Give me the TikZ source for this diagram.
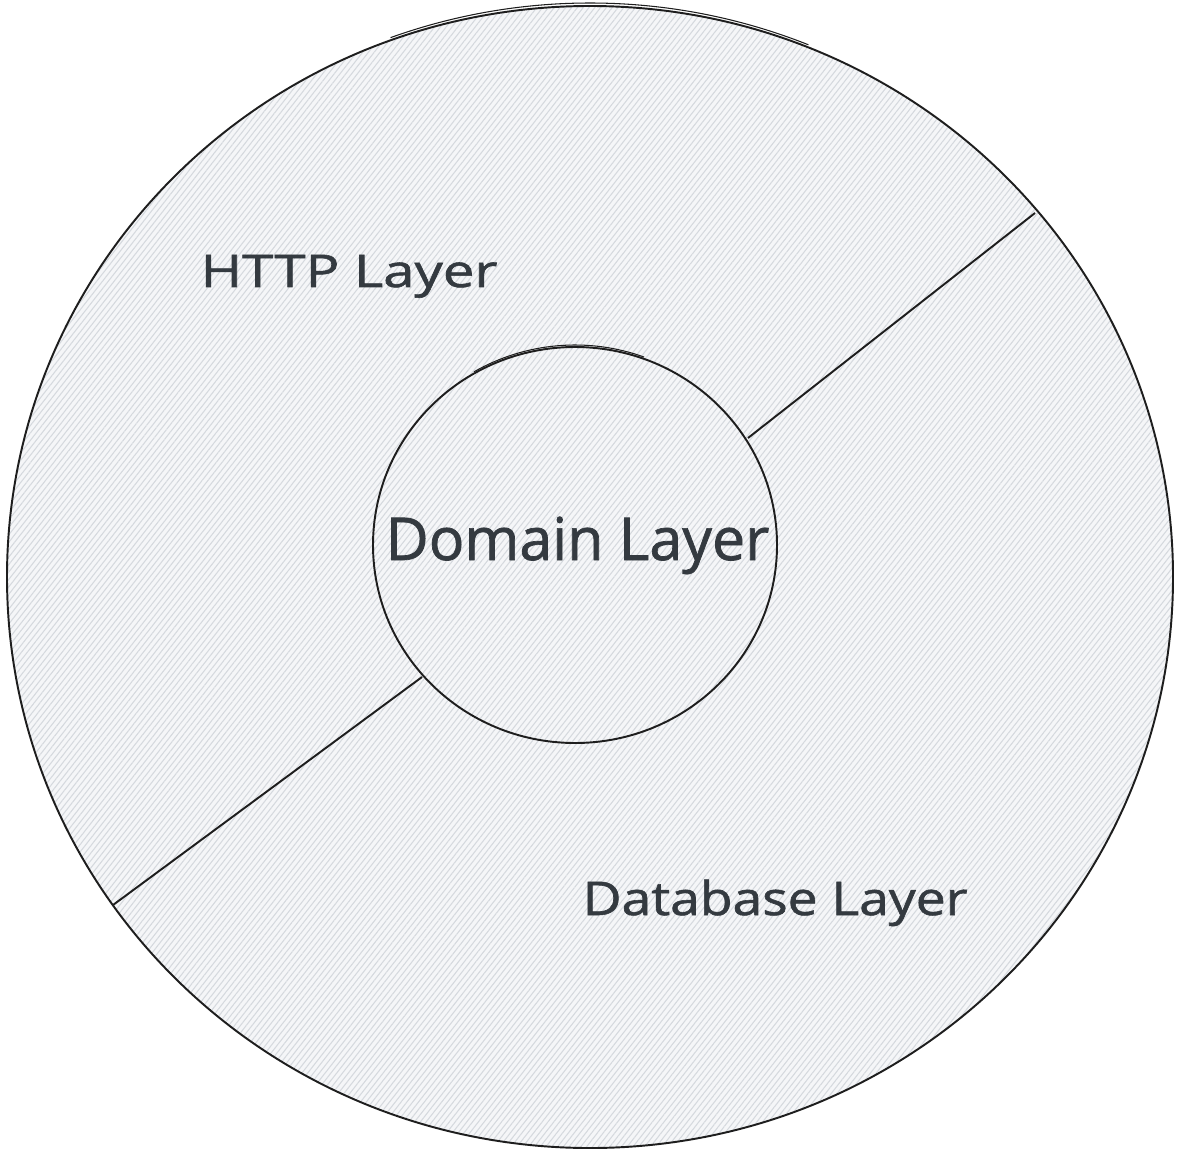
\documentclass[tikz,border=0pt]{standalone}
\usepackage{fontspec}
\setmainfont{Open Sans}
\newfontfamily\handfont{Open Sans}[FakeBold=1.2]
\usetikzlibrary{calc,patterns.meta}
\definecolor{ink}{HTML}{1E1E1E}
\definecolor{label}{HTML}{343A40}
\definecolor{hatch}{HTML}{D5D9DE}
\definecolor{paper}{HTML}{F5F6F8}
\tikzset{
  layer/.style={draw=ink,line width=0.55pt},
  hatched/.style={fill=paper,postaction={pattern={Lines[angle=52,distance=1.3pt,line width=0.3pt]},pattern color=hatch}},
  sketch/.style={draw=ink,line width=0.3pt},
  layername/.style={text=label,inner sep=0pt,anchor=base west},
}
\begin{document}
\begin{tikzpicture}[x=0.01cm,y=-0.01cm]
    \useasboundingbox (0,0) rectangle (1180,1155);
    \fill[white] (0,0) rectangle (1180,1155);
    % outer ring
    \coordinate (outer) at (590,577);
    \fill[hatched] (outer) ellipse[x radius=583,y radius=571];
    \draw[layer] (outer) ellipse[x radius=583,y radius=571];
    \draw[sketch] ($(outer)+(-110:583 and 574)$) arc[start angle=-110,end angle=-68,x radius=583,y radius=574];
    % inner circle
    \coordinate (inner) at (575,545);
    \fill[hatched] (inner) ellipse[x radius=202,y radius=198];
    \draw[layer] (inner) ellipse[x radius=202,y radius=198];
    \draw[sketch] ($(inner)+(-120:202 and 200)$) arc[start angle=-120,end angle=-70,x radius=202,y radius=200];
    % borders between the two outer layers
    \coordinate (ne1) at (748,438);
    \coordinate (ne2) at (1035,213);
    \coordinate (sw1) at (422,677);
    \coordinate (sw2) at (113,905);
    \draw[layer] (ne1) -- (ne2);
    \draw[layer] (sw1) -- (sw2);
    \node[layername,font=\handfont\fontsize{12.8}{14}\selectfont] (http) at (200,287) {\scalebox{1.25}[1]{HTTP Layer}};
    \node[layername,font=\handfont\fontsize{16.8}{18}\selectfont] (domain) at (385,560) {Domain Layer};
    \node[layername,font=\handfont\fontsize{13.2}{15}\selectfont] (db) at (582,915) {\scalebox{1.15}[1]{Database Layer}};
\end{tikzpicture}
\end{document}
